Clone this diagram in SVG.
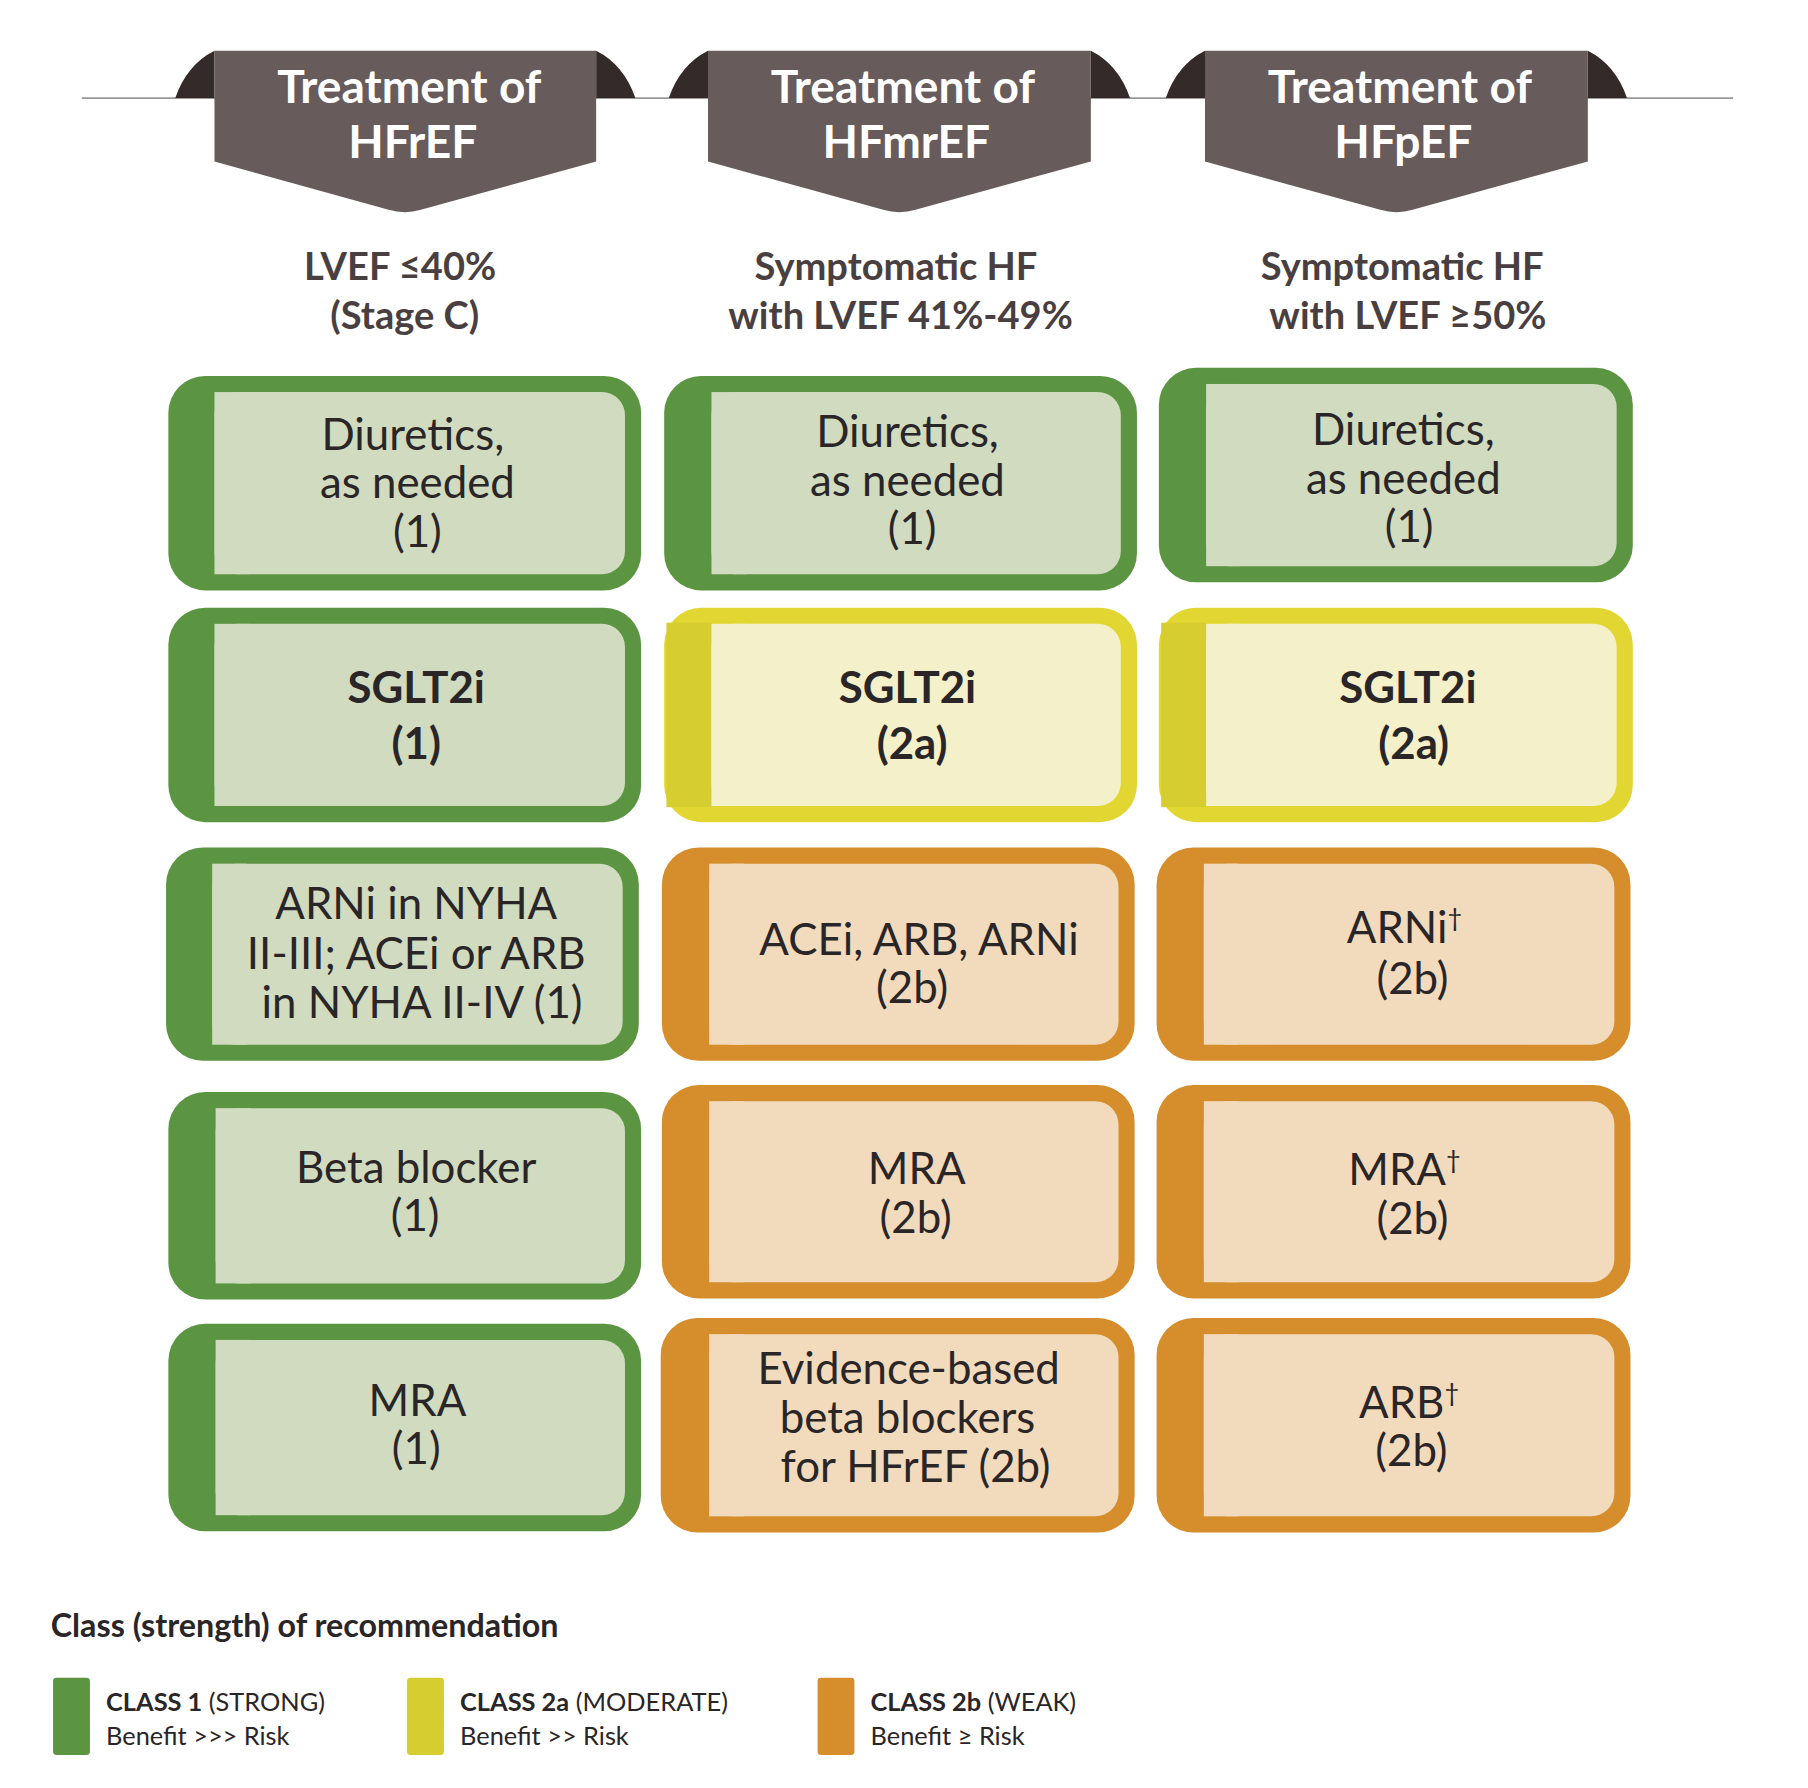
<svg xmlns="http://www.w3.org/2000/svg" width="1808" height="1788" viewBox="0 0 1808 1788">
<style>
.hd{font-family:Lato,"Open Sans",sans-serif;font-weight:700;font-size:40px;fill:#fff;text-anchor:middle}
.sub{font-family:Lato,"Open Sans",sans-serif;font-weight:700;font-size:33px;fill:#4a3f40;text-anchor:middle}
.bt{font-family:Lato,"Open Sans",sans-serif;font-size:38px;fill:#2a2526;text-anchor:middle}
.bb{font-weight:700}
.ear{fill:#352a2a}
.ban{fill:#675b5b}
.g1{fill:#5b9542}.g2{fill:#d0dbc0}
.y1{fill:#e2d632}.y2{fill:#f4f0c9}.y3{fill:#d6cd30}
.o1{fill:#d68d2b}.o2{fill:#f2dbbd}
.lt{font-family:Lato,"Open Sans",sans-serif;font-size:22px;fill:#2a2526}
</style>
<defs>
<g id="bx"><rect x="0" y="0" width="410" height="185" rx="32"/></g>
</defs>
<rect width="1808" height="1788" fill="#fff"/>
<g transform="scale(1.1531)">
<g id="headers">
<line x1="71" y1="85" x2="1503" y2="85" stroke="#999" stroke-width="1.5"/>
<g id="h1">
<path class="ear" d="M152,85 Q162,56 186,44 V85 Z M517,44 Q541,56 551,85 H517 Z"/>
<path class="ban" d="M186,44 H517 V140 L365,182 Q351,186 337,182 L186,140 Z"/>
<text class="hd" x="355" y="89">Treatment of</text><text class="hd" x="358" y="137">HFrEF</text>
</g>
<g id="h2">
<path class="ear" d="M580,85 Q590,56 614,44 V85 Z M946,44 Q970,56 980,85 H946 Z"/>
<path class="ban" d="M614,44 H946 V140 L794,182 Q780,186 766,182 L614,140 Z"/>
<text class="hd" x="783" y="89">Treatment of</text><text class="hd" x="786" y="137">HFmrEF</text>
</g>
<g id="h3">
<path class="ear" d="M1011,85 Q1021,56 1045,44 V85 Z M1377,44 Q1401,56 1411,85 H1377 Z"/>
<path class="ban" d="M1045,44 H1377 V140 L1225,182 Q1211,186 1197,182 L1045,140 Z"/>
<text class="hd" x="1214" y="89">Treatment of</text><text class="hd" x="1217" y="137">HFpEF</text>
</g>
<text class="sub" x="347" y="243">LVEF ≤40%</text><text class="sub" x="351" y="285">(Stage C)</text>
<text class="sub" x="777" y="243">Symptomatic HF</text><text class="sub" x="781" y="285">with LVEF 41%-49%</text>
<text class="sub" x="1216" y="243">Symptomatic HF</text><text class="sub" x="1221" y="285">with LVEF ≥50%</text>
</g>
<!-- Column 1 -->
<g id="c1r1"><rect class="g1" x="146" y="326" width="410" height="186" rx="32"/><rect class="g2" x="186" y="340" width="356" height="158" rx="20"/><rect class="g2" x="186" y="340" width="30" height="158"/>
<text class="bt" x="358" y="390">Diuretics,</text><text class="bt" x="362" y="432">as needed</text><text class="bt" x="362" y="474">(1)</text></g>
<g id="c1r2"><rect class="g1" x="146" y="527" width="410" height="186" rx="32"/><rect class="g2" x="186" y="541" width="356" height="158" rx="20"/><rect class="g2" x="186" y="541" width="30" height="158"/>
<text class="bt bb" x="361" y="610">SGLT2i</text><text class="bt bb" x="361" y="658">(1)</text></g>
<g id="c1r3"><rect class="g1" x="144" y="735" width="410" height="185" rx="32"/><rect class="g2" x="184" y="749" width="356" height="157" rx="20"/><rect class="g2" x="184" y="749" width="30" height="157"/>
<text class="bt" x="361" y="797">ARNi in NYHA</text><text class="bt" x="361" y="840">II-III; ACEi or ARB</text><text class="bt" x="366" y="883">in NYHA II-IV (1)</text></g>
<g id="c1r4"><rect class="g1" x="146" y="947" width="410" height="180" rx="32"/><rect class="g2" x="187" y="961" width="355" height="152" rx="20"/><rect class="g2" x="187" y="961" width="30" height="152"/>
<text class="bt" x="361" y="1026">Beta blocker</text><text class="bt" x="360" y="1068">(1)</text></g>
<g id="c1r5"><rect class="g1" x="146" y="1148" width="410" height="180" rx="32"/><rect class="g2" x="187" y="1162" width="355" height="152" rx="20"/><rect class="g2" x="187" y="1162" width="30" height="152"/>
<text class="bt" x="362" y="1228">MRA</text><text class="bt" x="361" y="1270">(1)</text></g>
<!-- Column 2 -->
<g id="c2r1"><rect class="g1" x="576" y="326" width="410" height="186" rx="32"/><rect class="g2" x="617" y="340" width="355" height="158" rx="20"/><rect class="g2" x="617" y="340" width="30" height="158"/>
<text class="bt" x="787" y="388">Diuretics,</text><text class="bt" x="787" y="430">as needed</text><text class="bt" x="791" y="472">(1)</text></g>
<g id="c2r2"><rect class="y1" x="576" y="527" width="410" height="186" rx="32"/><rect class="y3" x="578" y="540" width="39" height="160"/><rect class="y2" x="617" y="541" width="355" height="158" rx="20"/><rect class="y2" x="617" y="541" width="30" height="158"/>
<text class="bt bb" x="787" y="610">SGLT2i</text><text class="bt bb" x="791" y="658">(2a)</text></g>
<g id="c2r3"><rect class="o1" x="574" y="735" width="410" height="185" rx="32"/><rect class="o2" x="615" y="749" width="355" height="157" rx="20"/><rect class="o2" x="615" y="749" width="30" height="157"/>
<text class="bt" x="797" y="828">ACEi, ARB, ARNi</text><text class="bt" x="791" y="870">(2b)</text></g>
<g id="c2r4"><rect class="o1" x="574" y="941" width="410" height="185" rx="32"/><rect class="o2" x="615" y="955" width="355" height="157" rx="20"/><rect class="o2" x="615" y="955" width="30" height="157"/>
<text class="bt" x="795" y="1027">MRA</text><text class="bt" x="794" y="1069">(2b)</text></g>
<g id="c2r5"><rect class="o1" x="573" y="1143" width="411" height="186" rx="32"/><rect class="o2" x="615" y="1157" width="355" height="158" rx="20"/><rect class="o2" x="615" y="1157" width="30" height="158"/>
<text class="bt" x="788" y="1200">Evidence-based</text><text class="bt" x="787" y="1243">beta blockers</text><text class="bt" x="794" y="1285">for HFrEF (2b)</text></g>
<!-- Column 3 -->
<g id="c3r1"><rect class="g1" x="1005" y="319" width="411" height="186" rx="32"/><rect class="g2" x="1046" y="333" width="356" height="158" rx="20"/><rect class="g2" x="1046" y="333" width="30" height="158"/>
<text class="bt" x="1217" y="386">Diuretics,</text><text class="bt" x="1217" y="428">as needed</text><text class="bt" x="1222" y="470">(1)</text></g>
<g id="c3r2"><rect class="y1" x="1005" y="527" width="411" height="186" rx="32"/><rect class="y3" x="1007" y="540" width="39" height="160"/><rect class="y2" x="1046" y="541" width="356" height="158" rx="20"/><rect class="y2" x="1046" y="541" width="30" height="158"/>
<text class="bt bb" x="1221" y="610">SGLT2i</text><text class="bt bb" x="1226" y="658">(2a)</text></g>
<g id="c3r3"><rect class="o1" x="1003" y="735" width="411" height="185" rx="32"/><rect class="o2" x="1044" y="749" width="356" height="157" rx="20"/><rect class="o2" x="1044" y="749" width="30" height="157"/>
<text class="bt" x="1218" y="818">ARNi<tspan font-size="22" dy="-14">†</tspan></text><text class="bt" x="1225" y="862">(2b)</text></g>
<g id="c3r4"><rect class="o1" x="1003" y="941" width="411" height="185" rx="32"/><rect class="o2" x="1044" y="955" width="356" height="157" rx="20"/><rect class="o2" x="1044" y="955" width="30" height="157"/>
<text class="bt" x="1218" y="1028">MRA<tspan font-size="22" dy="-14">†</tspan></text><text class="bt" x="1225" y="1070">(2b)</text></g>
<g id="c3r5"><rect class="o1" x="1003" y="1143" width="411" height="186" rx="32"/><rect class="o2" x="1044" y="1157" width="356" height="158" rx="20"/><rect class="o2" x="1044" y="1157" width="30" height="158"/>
<text class="bt" x="1222" y="1230">ARB<tspan font-size="22" dy="-14">†</tspan></text><text class="bt" x="1224" y="1271">(2b)</text></g>
<g id="connectors"></g>
<g id="legend">
<text x="44" y="1420" font-family="Lato,'Open Sans',sans-serif" font-weight="700" font-size="28" fill="#2a2526">Class (strength) of recommendation</text>
<rect class="g1" x="46" y="1455" width="32" height="67" rx="3"/>
<text class="lt" x="92" y="1484"><tspan font-weight="700">CLASS 1</tspan> (STRONG)</text><text class="lt" x="92" y="1513">Benefit &gt;&gt;&gt; Risk</text>
<rect class="y3" x="353" y="1455" width="32" height="67" rx="3"/>
<text class="lt" x="399" y="1484"><tspan font-weight="700">CLASS 2a</tspan> (MODERATE)</text><text class="lt" x="399" y="1513">Benefit &gt;&gt; Risk</text>
<rect class="o1" x="709" y="1455" width="32" height="67" rx="3"/>
<text class="lt" x="755" y="1484"><tspan font-weight="700">CLASS 2b</tspan> (WEAK)</text><text class="lt" x="755" y="1513">Benefit ≥ Risk</text>
</g>
</g>
</svg>
